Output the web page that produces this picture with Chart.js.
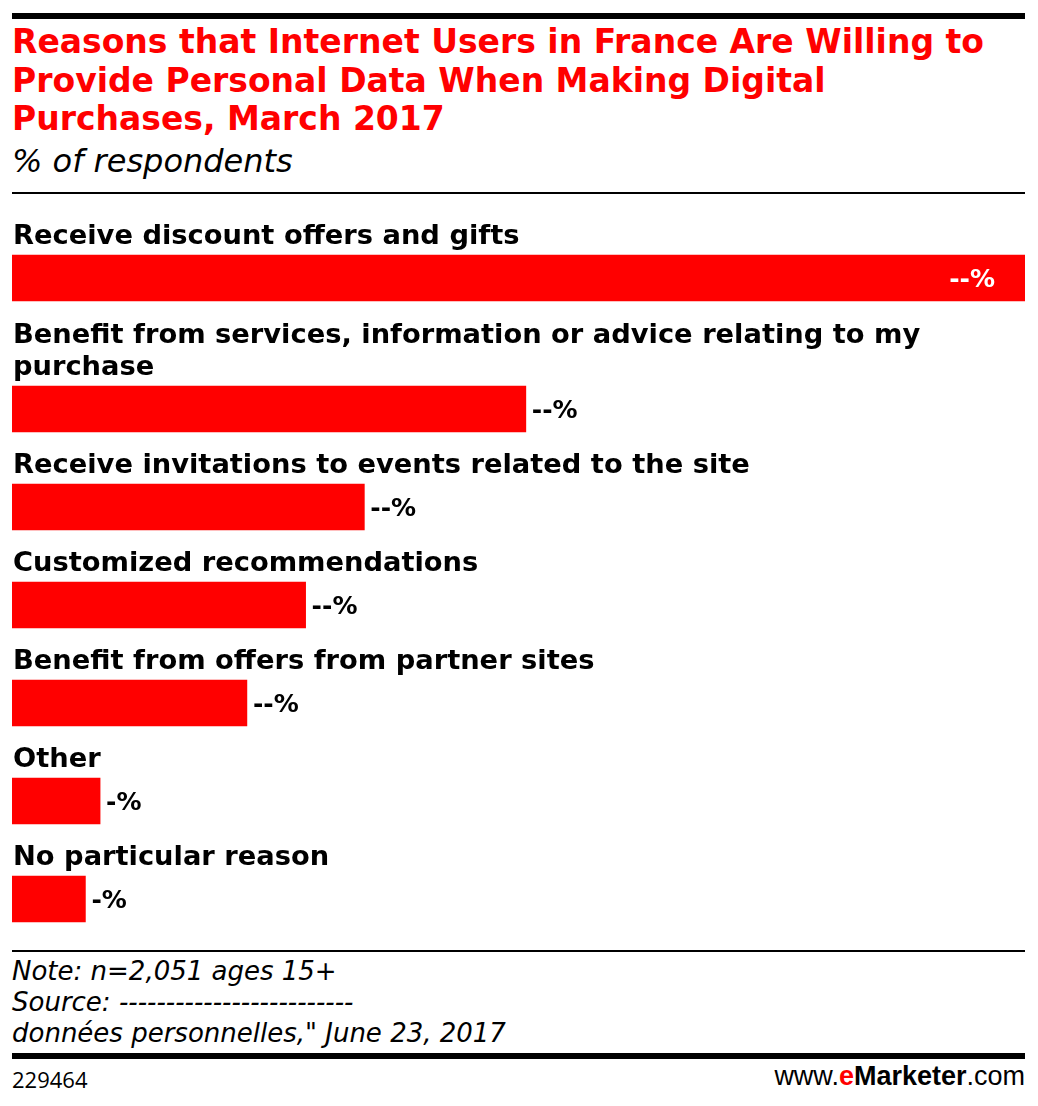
<!DOCTYPE html>
<html>
<head>
<meta charset="utf-8">
<script src="https://cdn.jsdelivr.net/npm/chart.js@4"></script>
<style>
    body { margin: 0; background: #fff; }
    #page { position: relative; width: 1038px; height: 1106px; overflow: hidden; font-family: "DejaVu Sans", sans-serif; }
    .rule { position: absolute; left: 12px; width: 1013px; background: #000; }
    #title { position: absolute; left: 12px; top: 23px; color: #ff0000; font-weight: bold; font-size: 33px; line-height: 38.5px; }
    #subtitle { position: absolute; left: 12px; top: 141px; font-style: italic; font-size: 32px; line-height: 40px; font-weight: 200; }
    #chartBox { position: absolute; left: 12px; top: 200px; }
    #note { position: absolute; left: 12px; top: 956px; font-style: italic; font-size: 26px; line-height: 31px; font-weight: 200; }
    #code { position: absolute; left: 12px; top: 1064px; font-size: 22px; font-family: "Open Sans", sans-serif; }
    #brand { position: absolute; right: 13px; top: 1061px; font-size: 27px; font-family: "Liberation Sans", sans-serif; }
    #brand b { font-weight: bold; }
    #brand .e { color: #ff0000; }
</style>
</head>
<body>
<div id="page">
    <div class="rule" style="top:13px;height:6px"></div>
    <div id="title">Reasons that Internet Users in France Are Willing to<br>Provide Personal Data When Making Digital<br>Purchases, March 2017</div>
    <div id="subtitle">% of respondents</div>
    <div class="rule" style="top:192px;height:2px"></div>
    <div id="chartBox"><canvas id="myChart" width="1013" height="740"></canvas></div>
    <div class="rule" style="top:950px;height:2px"></div>
    <div id="note">Note: n=2,051 ages 15+<br>Source: -------------------------<br>données personnelles," June 23, 2017</div>
    <div class="rule" style="top:1053px;height:6px"></div>
    <div id="code">229464</div>
    <div id="brand">www.<b class="e">e</b><b>Marketer</b>.com</div>
</div>

<script>
"use strict";

/* kategorier, en rad per etikettrad */
const categories = [
    ["Receive discount offers and gifts"],
    ["Benefit from services, information or advice relating to my", "purchase"],
    ["Receive invitations to events related to the site"],
    ["Customized recommendations"],
    ["Benefit from offers from partner sites"],
    ["Other"],
    ["No particular reason"]
];
/* värden uppskattade från stapellängderna */
const values = [69, 35, 24, 20, 16, 6, 5];
/* etiketterna som visas vid staplarna */
const valueLabels = ["--%", "--%", "--%", "--%", "--%", "-%", "-%"];

/* radposition: en enhet per rad plus lite extra för varje extra etikettrad */
const extraLine = 0.337;
const rowPos = [];
let pos = 0;
categories.forEach((lines, i) => {
    if (i > 0) pos += 1 + extraLine * (lines.length - 1);
    rowPos.push(pos);
});

const rowPx = 98;
const yMin = -78 / rowPx;
const yMax = yMin + 740 / rowPx;

/* ritar kategorinamn ovanför och värden vid staplarna */
const labelPlugin = {
    id: 'barLabels',
    afterDatasetsDraw(chart) {
        const ctx = chart.ctx;
        const meta = chart.getDatasetMeta(0);
        ctx.save();
        meta.data.forEach((bar, i) => {
            const top = bar.y - bar.height / 2;
            const lines = categories[i];
            ctx.fillStyle = '#000';
            ctx.font = 'bold 27.3px "DejaVu Sans"';
            ctx.textAlign = 'left';
            ctx.textBaseline = 'alphabetic';
            lines.forEach((line, k) => {
                ctx.fillText(line, 1, top - 11 - (lines.length - 1 - k) * 32);
            });

            ctx.font = 'bold 25px "DejaVu Sans"';
            ctx.textBaseline = 'middle';
            if (bar.x > chart.chartArea.right - 100) {
                ctx.fillStyle = '#fff';
                ctx.textAlign = 'right';
                ctx.fillText(valueLabels[i], bar.x - 30, bar.y + 2);
            } else {
                ctx.fillStyle = '#000';
                ctx.textAlign = 'left';
                ctx.fillText(valueLabels[i], bar.x + 6, bar.y + 2);
            }
        });
        ctx.restore();
    }
};

const ctx1 = document.getElementById('myChart');

new Chart(ctx1, {
    type: 'bar',
    data: {
        datasets: [{
            data: values.map((v, i) => ({ x: v, y: rowPos[i] })),
            backgroundColor: '#ff0000',
            borderWidth: 0,
            barThickness: 46
        }]
    },
    options: {
        indexAxis: 'y',
        responsive: false,
        animation: false,
        layout: { padding: 0 },
        plugins: {
            legend: { display: false },
            tooltip: { enabled: false }
        },
        scales: {
            x: { type: 'linear', min: 0, max: 69, display: false },
            y: { type: 'linear', min: yMin, max: yMax, reverse: true, offset: false, display: false }
        }
    },
    plugins: [labelPlugin]
});
</script>
</body>
</html>
